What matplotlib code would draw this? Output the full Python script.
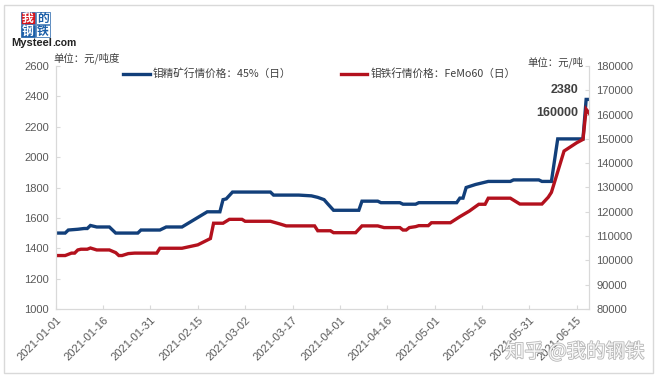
import matplotlib
matplotlib.use("Agg")
import matplotlib.pyplot as plt
import matplotlib.patheffects as pe
from matplotlib.patches import Rectangle
import pandas as pd

plt.rcParams['font.family'] = ['Noto Sans CJK SC', 'DejaVu Sans']

# ---- data ----
conc_days = [0, 3, 4, 7, 9, 10, 11, 13, 17, 19, 26, 27, 33, 35, 40, 48, 52, 53, 54, 56,
             68, 69, 77, 81, 83, 85, 86, 88, 96, 97, 102, 103, 109, 110, 114, 115, 127,
             128, 129, 130, 133, 137, 144, 145, 153, 154, 157, 159, 167, 168, 169]
conc_vals = [1500, 1500, 1520, 1525, 1530, 1530, 1550, 1540, 1540, 1500, 1500, 1520, 1520,
             1540, 1540, 1640, 1640, 1720, 1725, 1770, 1770, 1750, 1750, 1745, 1735, 1720,
             1696, 1650, 1650, 1710, 1710, 1700, 1700, 1690, 1690, 1700, 1700, 1730, 1730,
             1800, 1820, 1840, 1840, 1850, 1850, 1840, 1840, 2120, 2120, 2380, 2380]

femo_days = [0, 3, 5, 6, 7, 8, 10, 11, 13, 17, 19, 20, 21, 23, 25, 32, 33, 40, 45, 49, 50,
             53, 55, 59, 60, 68, 71, 73, 82, 83, 87, 88, 95, 97, 102, 104, 109, 110, 111,
             112, 114, 115, 118, 119, 125, 128, 131, 134, 136, 137, 144, 147, 154, 156, 157,
             161, 165, 167, 168, 169]
femo_vals = [102000, 102000, 103000, 103000, 104300, 104600, 104600, 105100, 104300, 104300,
             103200, 102000, 102000, 102800, 103000, 103000, 105000, 105000, 106400, 109000,
             115300, 115300, 116900, 116900, 116100, 116100, 115000, 114200, 114200, 112200,
             112200, 111400, 111400, 114200, 114200, 113500, 113500, 112500, 112500, 113500,
             113900, 114300, 114300, 115500, 115500, 118000, 120300, 123100, 123100, 125600,
             125600, 123200, 123200, 126000, 128000, 145000, 148400, 149800, 162200, 160500]

start = pd.Timestamp("2021-01-01")
conc_dates = [start + pd.Timedelta(days=d) for d in conc_days]
femo_dates = [start + pd.Timedelta(days=d) for d in femo_days]

tick_labels = ["2021-01-01", "2021-01-16", "2021-01-31", "2021-02-15", "2021-03-02",
               "2021-03-17", "2021-04-01", "2021-04-16", "2021-05-01", "2021-05-16",
               "2021-05-31", "2021-06-15"]
left_ticks = [1000, 1200, 1400, 1600, 1800, 2000, 2200, 2400, 2600]
right_ticks = [80000, 90000, 100000, 110000, 120000, 130000, 140000, 150000, 160000,
               170000, 180000]

name_conc = "钼精矿行情价格：45%（日）"
name_femo = "钼铁行情价格：FeMo60（日）"

BLUE = "#123f7a"
RED = "#b3111d"
GREY = "#d9d9d9"
TXT = "#595959"

W, H = 663, 380
fig = plt.figure(figsize=(W / 100, H / 100), dpi=100)
fig.patch.set_facecolor("white")

x0, x1, ytop, ybot = 55.7, 589.3, 66, 309
ax = fig.add_axes([x0 / W, 1 - ybot / H, (x1 - x0) / W, (ybot - ytop) / H])
ax2 = ax.twinx()

l1, = ax.plot(conc_dates, conc_vals, color=BLUE, lw=2.4, solid_joinstyle='miter', label=name_conc)
l2, = ax2.plot(femo_dates, femo_vals, color=RED, lw=2.4, solid_joinstyle='miter', label=name_femo)

ax.set_xlim(start, femo_dates[-1])
ax.set_ylim(left_ticks[0], left_ticks[-1])
ax2.set_ylim(right_ticks[0], right_ticks[-1])
ax.set_yticks(left_ticks)
ax2.set_yticks(right_ticks)
ax.set_xticks([pd.Timestamp(t) for t in tick_labels])
ax.set_xticklabels(tick_labels, rotation=45, ha='right', va='top', rotation_mode='anchor')

for a in (ax, ax2):
    for s in a.spines.values():
        s.set_color(GREY)
    a.spines['top'].set_visible(False)
    a.tick_params(direction='in', length=3, color=GREY, labelsize=8, labelcolor=TXT)
    for lab in a.get_xticklabels() + a.get_yticklabels():
        lab.set_family(['Liberation Sans', 'DejaVu Sans'])
ax.tick_params(axis='y', pad=5)
ax2.tick_params(axis='y', pad=5)
ax.tick_params(axis='x', pad=4)

# end labels
ax.annotate(f"{conc_vals[-1]}", xy=(conc_dates[-1], conc_vals[-1]), xytext=(-8, 7),
            textcoords='offset points', ha='right', va='center', fontsize=9,
            fontweight='bold', color='#404040', family=['Liberation Sans', 'DejaVu Sans'])
ax2.annotate(f"{160000}", xy=(femo_dates[-1], femo_vals[-1]), xytext=(-8, 0),
             textcoords='offset points', ha='right', va='center', fontsize=9,
             fontweight='bold', color='#404040', family=['Liberation Sans', 'DejaVu Sans'])

# legend
leg = fig.legend(handles=[l1, l2], loc='center left', bbox_to_anchor=(123 / W, 1 - 74 / H),
                 ncol=2, frameon=False, fontsize=7.7, handlelength=2.5, handletextpad=0.3,
                 columnspacing=4.6, borderpad=0, borderaxespad=0)
for t in leg.get_texts():
    t.set_color('#404040')

fig.text(53 / W, 1 - 58 / H, "单位：元/吨度", fontsize=7.5, color='#404040', ha='left', va='center')
fig.text(583 / W, 1 - 62 / H, "单位：元/吨", fontsize=7.5, color='#404040', ha='right', va='center')

# logo
logo = [("我", 28, 18, "#d7141d", "white"), ("的", 43, 18, "white", "#1d5fa8"),
        ("钢", 28, 31, "#1d5fa8", "white"), ("铁", 43, 31, "white", "#1d5fa8")]
for ch, cx, cy, bg, fg in logo:
    fig.patches.append(Rectangle(((cx - 7) / W, 1 - (cy + 6.3) / H), 14 / W, 12.6 / H,
                                 transform=fig.transFigure, facecolor=bg, edgecolor='#1d5fa8', lw=0.5))
    fig.text(cx / W, 1 - cy / H, ch, fontsize=8.5, color=fg, ha='center', va='center', fontweight='bold')
fig.text(11 / W, 1 - 42.5 / H, "Mysteel", fontsize=8, fontweight='bold', color='#222222',
         ha='left', va='center', family=['Liberation Sans', 'DejaVu Sans'])
fig.text(52 / W, 1 - 43 / H, ".com", fontsize=7.5, fontweight='bold', color='#222222',
         ha='left', va='center', family=['Liberation Sans', 'DejaVu Sans'])

# border
fig.patches.append(Rectangle((4 / W, 1 - 373 / H), 649 / W, 368 / H, transform=fig.transFigure,
                             fill=False, edgecolor=GREY, lw=1))

# watermark
fig.text(575 / W, 1 - 352 / H, "知乎 @我的钢铁", fontsize=14, color='white', alpha=0.9,
         ha='center', va='center',
         path_effects=[pe.withStroke(linewidth=1.2, foreground='#b0b0b0')])

fig.savefig("out.png", dpi=100)
